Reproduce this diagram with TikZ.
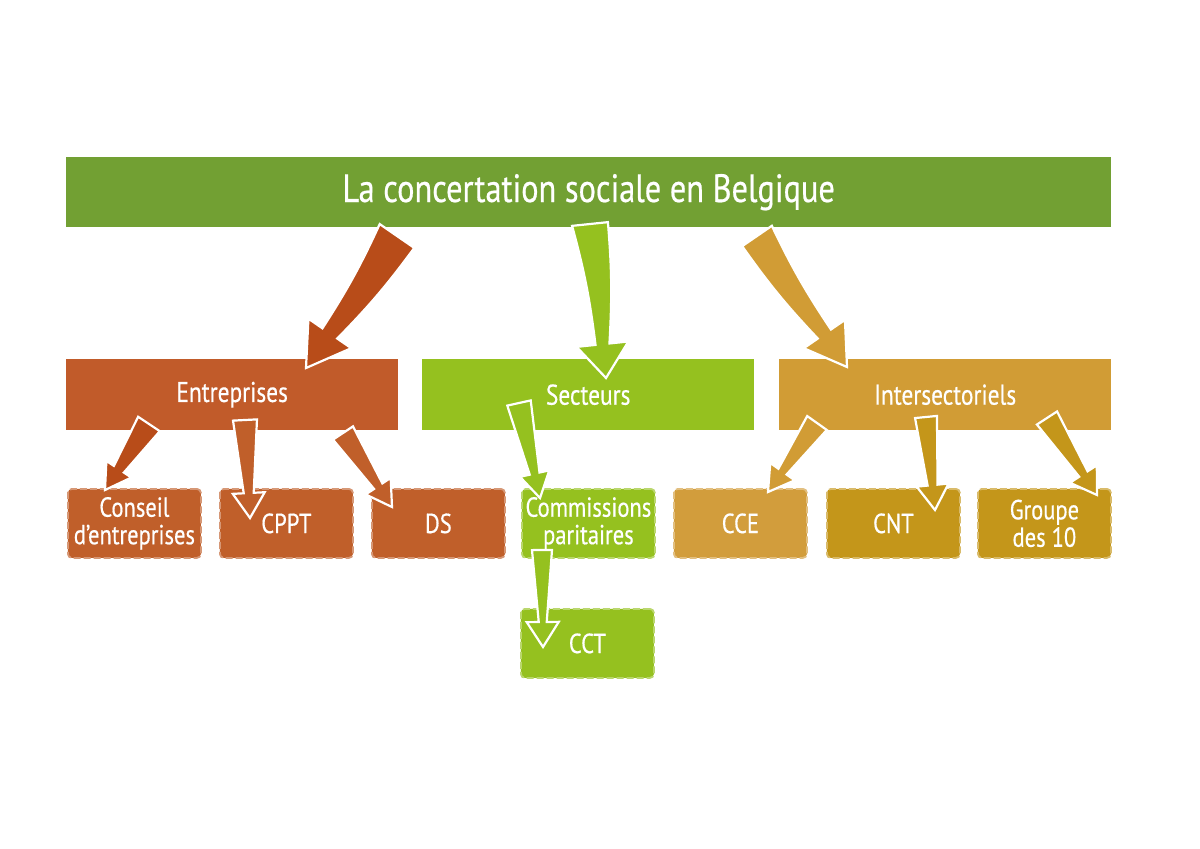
\documentclass[tikz,border=0pt]{standalone}
\usepackage{fontspec}
\setmainfont{PT Sans}[FakeStretch=0.82, FakeBold=0.5]
\usetikzlibrary{calc}

\definecolor{cTitle}{HTML}{72A033}
\definecolor{cEnt}{HTML}{C15B2A}
\definecolor{cEntA}{HTML}{B84C19}
\definecolor{cSec}{HTML}{95C11F}
\definecolor{cInt}{HTML}{D19C35}
\definecolor{cCCE}{HTML}{D29D3C}
\definecolor{cCNT}{HTML}{C4961A}
\definecolor{cSmallE}{HTML}{C05F2A}

\tikzset{
  mainbox/.style={rectangle, anchor=north west, inner sep=0pt, text=white, align=center},
  titlebox/.style={mainbox, fill=cTitle, minimum width=1045pt, minimum height=70pt, font=\fontsize{39.5}{42}\selectfont},
  midbox/.style={mainbox, minimum width=332pt, minimum height=71pt, font=\fontsize{28.5}{30}\selectfont},
  smallbox/.style={mainbox, minimum width=133pt, minimum height=69pt, rounded corners=4pt, dashed, line width=1.8pt, dash pattern=on 7pt off 3pt, font=\fontsize{27.5}{27.5}\selectfont},
  arrowshape/.style={draw=white, line width=2.2pt, line join=miter},
}

\newcommand{\taparrow}[8]{%
  \coordinate (N) at ($(#3)!#7!(#2)$);
  \coordinate (a1) at ($(#2)!#4!90:(#3)$);
  \coordinate (a2) at ($(#2)!#4!-90:(#3)$);
  \coordinate (n1) at ($(N)!#5!90:(#3)$);
  \coordinate (n2) at ($(N)!#5!-90:(#3)$);
  \coordinate (h1) at ($(N)!#6!90:(#3)$);
  \coordinate (h2) at ($(N)!#6!-90:(#3)$);
  \filldraw[arrowshape, fill=#1] (a1) to[bend left=#8] (n1) -- (h1) -- (#3) -- (h2) -- (n2) to[bend right=#8] (a2) -- cycle;
}

\begin{document}
\begin{tikzpicture}[x=1pt, y=-1pt]
\useasboundingbox (0,0) rectangle (1200,849);
\fill[white] (0,0) rectangle (1200,849);

% boxes
\node[titlebox] (title) at (66,157) {La concertation sociale en Belgique};
\node[midbox, fill=cEnt] (ent) at (66,359) {Entreprises};
\node[midbox, fill=cSec] (sec) at (422,359) {Secteurs};
\node[midbox, fill=cInt] (inter) at (779,359) {Intersectoriels};

\node[smallbox, fill=cSmallE, draw=cSmallE!65!white] (ce) at (67,488) {Conseil\\d’entreprises};
\node[smallbox, fill=cSmallE, draw=cSmallE!65!white] (cppt) at (219,488) {CPPT};
\node[smallbox, fill=cSmallE, draw=cSmallE!65!white] (ds) at (371,488) {DS};
\node[smallbox, fill=cSec, draw=cSec!65!white] (cp) at (521,488) {Commissions\\paritaires};
\node[smallbox, fill=cCCE, draw=cCCE!65!white] (cce) at (673,488) {CCE};
\node[smallbox, fill=cCNT, draw=cCNT!65!white] (cnt) at (826,488) {CNT};
\node[smallbox, fill=cCNT, draw=cCNT!65!white] (g10) at (977,488) {Groupe\\des 10};
\node[smallbox, fill=cSec, draw=cSec!65!white] (cct) at (520,608) {CCT};

% arrow end points
\coordinate (t1) at (397,236);  \coordinate (e1) at (306,368);
\coordinate (t2) at (590,224);  \coordinate (e2) at (606,378);
\coordinate (t3) at (757,236);  \coordinate (e3) at (847,367);
\coordinate (t4) at (149,424);  \coordinate (e4) at (105,490);
\coordinate (t5) at (245,420);  \coordinate (e5) at (250,518);
\coordinate (t6) at (343,433);  \coordinate (e6) at (392,507);
\coordinate (t7) at (519,403);  \coordinate (e7) at (540,498);
\coordinate (t8) at (542,550);  \coordinate (e8) at (543,647);
\coordinate (t9) at (817,423);  \coordinate (e9) at (768,492);
\coordinate (t10) at (926,417); \coordinate (e10) at (935,510);
\coordinate (t11) at (1047,418); \coordinate (e11) at (1097,495);

% arrows
\taparrow{cEntA}{t1}{e1}{21pt}{9pt}{26pt}{42pt}{4}
\taparrow{cSec}{t2}{e2}{18pt}{7pt}{26pt}{34pt}{4}
\taparrow{cInt}{t3}{e3}{18pt}{8pt}{25pt}{40pt}{-4}
\taparrow{cEntA}{t4}{e4}{13pt}{6pt}{15pt}{25pt}{0}
\taparrow{cSmallE}{t5}{e5}{12pt}{5pt}{16pt}{25pt}{0}
\taparrow{cSmallE}{t6}{e6}{12pt}{5pt}{15pt}{25pt}{0}
\taparrow{cSec}{t7}{e7}{12pt}{5pt}{15pt}{25pt}{0}
\taparrow{cSec}{t8}{e8}{10pt}{4pt}{16pt}{25pt}{0}
\taparrow{cInt}{t9}{e9}{12pt}{5pt}{15pt}{25pt}{0}
\taparrow{cCNT}{t10}{e10}{11pt}{5pt}{16pt}{25pt}{0}
\taparrow{cCNT}{t11}{e11}{12pt}{5pt}{16pt}{25pt}{0}
\end{tikzpicture}
\end{document}
